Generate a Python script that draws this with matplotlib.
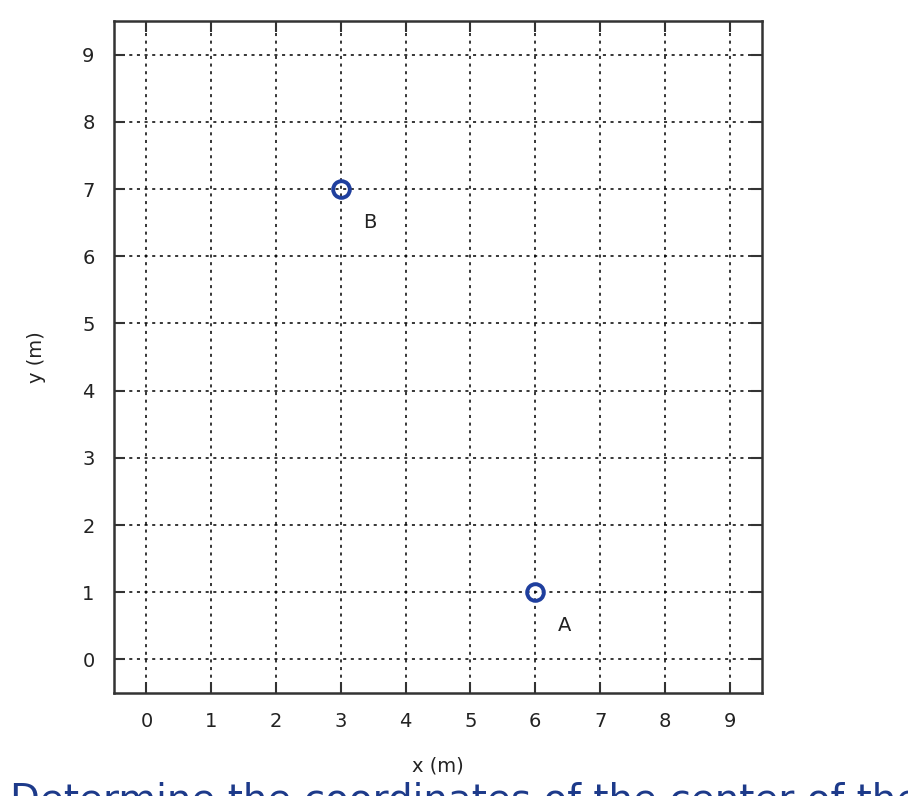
import matplotlib
matplotlib.use("Agg")
import matplotlib.pyplot as plt

point_names = ["A", "B"]
point_x = [6, 3]
point_y = [1, 7]
label_dx = 0.45
label_dy = -0.5
x_ticks = list(range(0, 10))
y_ticks = list(range(0, 10))
x_label = "x (m)"
y_label = "y (m)"
caption = "Determine the coordinates of the center of the"

fig = plt.figure(figsize=(9.08, 7.96), dpi=100)
ax = fig.add_axes([0.1256, 0.1294, 0.7137, 0.8442])
ax.set_xlim(-0.5, 9.5)
ax.set_ylim(-0.5, 9.5)
ax.set_xticks(x_ticks)
ax.set_yticks(y_ticks)
ax.grid(True, color="black", linestyle=(0, (2, 3)), linewidth=1.1)
ax.set_axisbelow(True)
ax.tick_params(direction="in", length=8, width=1.5, color="#333333",
               top=True, right=True, labelsize=14, pad=14, labelcolor="#222222")
for s in ax.spines.values():
    s.set_linewidth(1.8)
    s.set_color("#333333")

ax.plot(point_x, point_y, linestyle="none", marker="o", markersize=12,
        markerfacecolor="none", markeredgecolor="#1f3f9e", markeredgewidth=2.8, zorder=5)
for n, x, y in zip(point_names, point_x, point_y):
    ax.text(x + label_dx, y + label_dy, n, fontsize=14, color="#222222",
            ha="center", va="center")

ax.set_xlabel(x_label, fontsize=14, color="#222222", labelpad=18)
ax.set_ylabel(y_label, fontsize=14, color="#222222", labelpad=26)

fig.text(0.011, -0.03, caption, fontsize=28, color="#1d3a8a", ha="left", va="bottom")

fig.savefig("out.png", dpi=100)
